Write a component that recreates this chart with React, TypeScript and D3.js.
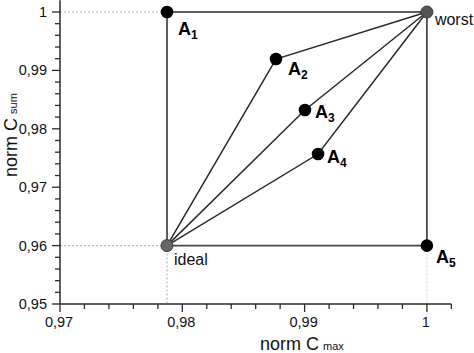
import React from "react";
import * as d3 from "d3";

const W = 474;
const H = 353;

// data (normalized criteria)
const pointNames = ["A1", "A2", "A3", "A4", "A5"];
const pointX = [0.97875, 0.98766, 0.99003, 0.9911, 1.0];
const pointY = [1.0, 0.99195, 0.98322, 0.97568, 0.96];
const ideal = { name: "ideal", x: 0.97875, y: 0.96 };
const worst = { name: "worst", x: 1.0, y: 1.0 };

const xMajorTicks = [0.97, 0.98, 0.99, 1.0];
const yMajorTicks = [0.95, 0.96, 0.97, 0.98, 0.99, 1.0];
const xDomain = [0.97, 1.002];
const yDomain = [0.95, 1.002];

const fmt = (v: number) => (Math.abs(v - 1) < 1e-9 ? "1" : v.toFixed(2).replace(".", ","));

export default function App() {
  const x = d3.scaleLinear().domain(xDomain).range([60, 60 + 0.032 * 12230]);
  const y = d3.scaleLinear().domain(yDomain).range([304, 304 - 0.052 * 5840]);

  const xMinor = d3.range(0, 17).map((i) => 0.97 + i * 0.002);
  const yMinor = d3.range(0, 26).map((i) => 0.95 + i * 0.002);
  const isMajor = (v: number, arr: number[]) => arr.some((m) => Math.abs(m - v) < 1e-9);

  const font = "'Liberation Sans', Arial, Helvetica, sans-serif";
  const lineColor = "#2a2a2a";

  const line = d3.line<[number, number]>().x((d) => x(d[0])).y((d) => y(d[1]));

  const x0 = x(0.97);
  const y0 = y(0.95);

  const labelOffsets = [
    { dx: 11, dy: 23 },
    { dx: 12, dy: 16 },
    { dx: 10, dy: 8 },
    { dx: 9, dy: 9 },
    { dx: 9, dy: 17 },
  ];

  return (
    <svg
      width={W}
      height={H}
      style={{ position: "absolute", left: 0, top: 0, background: "#fff" }}
      fontFamily={font}
    >
      {/* dotted guide lines */}
      <line x1={x0} x2={x(ideal.x)} y1={y(1)} y2={y(1)} stroke="#b5b5b5" strokeWidth={1.2} strokeDasharray="2,2" />
      <line x1={x0} x2={x(ideal.x)} y1={y(0.96)} y2={y(0.96)} stroke="#9fd09f" strokeWidth={1.2} strokeDasharray="2,2" />
      <line x1={x(ideal.x)} x2={x(ideal.x)} y1={y(ideal.y)} y2={y0} stroke="#b5b5b5" strokeWidth={1.2} strokeDasharray="2,2" />
      <line x1={x(1)} x2={x(1)} y1={y(0.96)} y2={y0} stroke="#d5d5d5" strokeWidth={1.2} strokeDasharray="2,2" />

      {/* connecting lines */}
      {pointNames.map((n, i) => (
        <path
          key={n}
          d={line([
            [ideal.x, ideal.y],
            [pointX[i], pointY[i]],
            [worst.x, worst.y],
          ]) as string}
          fill="none"
          stroke={i === 4 ? "#4a4a4a" : lineColor}
          strokeWidth={i === 4 ? 1.8 : 1.5}
        />
      ))}

      {/* axes */}
      <line x1={x0} x2={x0} y1={y0} y2={y(1.002)} stroke={lineColor} strokeWidth={1.5} />
      <line x1={x0} x2={x(1.002)} y1={y0} y2={y0} stroke={lineColor} strokeWidth={1.5} />
      {yMinor.map((v) => {
        const maj = isMajor(v, yMajorTicks);
        return (
          <line key={"yt" + v} x1={x0 - (maj ? 8 : 5)} x2={x0} y1={y(v)} y2={y(v)} stroke={lineColor} strokeWidth={1.3} />
        );
      })}
      {xMinor.map((v) => {
        const maj = isMajor(v, xMajorTicks);
        return (
          <line key={"xt" + v} x1={x(v)} x2={x(v)} y1={y0} y2={y0 + (maj ? 8 : 5)} stroke={lineColor} strokeWidth={1.3} />
        );
      })}
      {yMajorTicks.map((v) => (
        <text key={"yl" + v} x={47} y={y(v) + 5} textAnchor="end" fontSize={14.5} fill="#111">
          {fmt(v)}
        </text>
      ))}
      {xMajorTicks.map((v) => (
        <text key={"xl" + v} x={x(v) - 1} y={327} textAnchor="middle" fontSize={14.5} fill="#111">
          {fmt(v)}
        </text>
      ))}

      {/* axis titles */}
      <text x={260} y={350} fontSize={18} fill="#111">
        norm C<tspan fontSize={11} dx={4}>max</tspan>
      </text>
      <text transform="translate(17,177) rotate(-90)" fontSize={18} fill="#111">
        norm C<tspan fontSize={11} dx={4}>sum</tspan>
      </text>

      {/* points */}
      {pointNames.map((n, i) => (
        <circle key={"p" + n} cx={x(pointX[i])} cy={y(pointY[i])} r={6.3} fill="#000" />
      ))}
      <circle cx={x(ideal.x)} cy={y(ideal.y)} r={6} fill="#666" stroke="#3a3a3a" strokeWidth={1} />
      <circle cx={x(worst.x)} cy={y(worst.y)} r={6} fill="#555" stroke="#3a3a3a" strokeWidth={1} />

      {/* labels */}
      {pointNames.map((n, i) => (
        <text
          key={"l" + n}
          x={x(pointX[i]) + labelOffsets[i].dx}
          y={y(pointY[i]) + labelOffsets[i].dy}
          fontSize={18}
          fontWeight="bold"
          fill="#000"
        >
          A<tspan fontSize={12} dy={4}>{n.slice(1)}</tspan>
        </text>
      ))}
      <text x={x(worst.x) + 8} y={y(worst.y) + 13} fontSize={16} fill="#111">
        worst
      </text>
      <text x={x(ideal.x) + 7} y={y(ideal.y) + 19} fontSize={16} fill="#111">
        ideal
      </text>
    </svg>
  );
}
